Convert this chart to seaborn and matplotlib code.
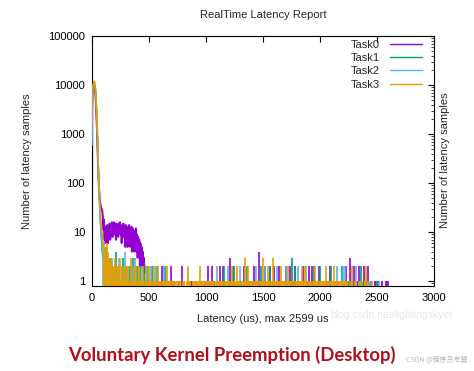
import matplotlib
matplotlib.use("Agg")
import matplotlib.pyplot as plt
import seaborn as sns
import pandas as pd
from matplotlib.ticker import FixedLocator, LogLocator, NullFormatter

# ---------------- data ----------------
tasks = ["Task0", "Task1", "Task2", "Task3"]
colors = ["#9400d3", "#009e73", "#56b4e9", "#e69f00"]

title = "RealTime Latency Report"
xlabel = "Latency (us), max 2599 us"
ylabel = "Number of latency samples"
caption = "Voluntary Kernel Preemption (Desktop)"
xticks = [0, 500, 1000, 1500, 2000, 2500, 3000]
yticks = [1, 10, 100, 1000, 10000, 100000]

# dense (line) part of each histogram
task0_head_x = [0, 2, 5, 8, 12, 16, 20, 24, 28, 32, 36, 40, 44, 48, 52, 56, 60, 64, 68, 72, 76, 80, 84, 88, 92, 96,
                100, 105, 110, 115, 120, 125, 130, 135, 140, 145, 150, 155, 160, 165, 170, 175, 180, 185, 190, 195,
                200, 205, 210, 215, 220, 225, 230, 235, 240, 245, 250, 255, 260, 265, 270, 275, 280, 285, 290, 295,
                300, 305, 310, 315, 320, 325, 330, 335, 340, 345, 350, 355, 360, 365, 370, 375, 380, 385, 390, 395,
                400, 405, 410, 415, 420, 425, 430, 435, 440, 445, 450, 455, 460, 465]
task0_head_y = [2, 3000, 6500, 8500, 9500, 10000, 9800, 9000, 7500, 5500, 3500, 2000, 1100, 550, 280, 150, 95, 65, 48, 40, 35, 32, 30, 28, 25, 20,
                11, 18, 7, 13, 6, 12, 8, 14, 6, 13, 9, 15, 7, 14, 10, 16, 8, 15, 11, 16, 9, 14, 7, 15, 10, 13, 8, 15,
                11, 16, 9, 14, 6, 13, 10, 15, 8, 12, 5, 14, 9, 13, 5, 12, 8, 14, 5, 11, 9, 13, 4, 12, 7, 11, 4, 10,
                6, 12, 4, 9, 3, 8, 4, 7, 2, 6, 3, 5, 2, 4, 1.5, 3, 1.5, 2]
task1_head_x = [0, 2, 5, 8, 12, 16, 20, 24, 28, 32, 36, 40, 44, 48, 52, 56, 60, 64, 68, 72, 76, 80, 85, 90, 95]
task1_head_y = [800, 3500, 7000, 9000, 10500, 11000, 11000, 10200, 8800, 6800, 4500, 2700, 1500, 750, 350, 170, 90, 50, 30, 20, 13, 9, 6, 4, 3]
task2_head_x = [0, 2, 5, 8, 12, 16, 20, 24, 28, 32, 36, 40, 44, 48, 52, 56, 60, 64, 68, 72, 76, 80, 85, 90, 95]
task2_head_y = [600, 3000, 6500, 8800, 10000, 10800, 11000, 10500, 9200, 7200, 4800, 2900, 1600, 800, 380, 180, 95, 55, 32, 21, 14, 10, 7, 5, 3]
task3_head_x = [0, 2, 5, 8, 12, 16, 20, 24, 28, 32, 36, 40, 44, 48, 52, 56, 60, 64, 68, 72, 76, 80, 85, 90, 95, 100]
task3_head_y = [1500, 4000, 7000, 9000, 10500, 11500, 12000, 11500, 10000, 8000, 5500, 3500, 2000, 1000, 450, 200, 110, 65, 42, 30, 22, 16, 12, 9, 7, 5]

# sparse (impulse) part: bins with count >= 2
task0_spk_x = [614, 693, 789, 1017, 1052, 1123, 1150, 1210, 1240, 1330, 1420, 1465, 1520, 1560, 1600, 1640, 1700,
               1740, 1780, 1850, 1900, 1930, 1990, 2090, 2230, 2263, 2300, 2340, 2390, 2420]
task0_spk_y = [2, 2, 2, 2, 2, 2, 2, 3, 2, 2, 2, 4, 2, 2, 2, 2, 2,
               2, 2, 2, 2, 2, 2, 2, 2, 3, 2, 2, 2, 2]
task1_spk_x = [105, 112, 125, 140, 160, 185, 210, 240, 270, 300, 330, 360, 395, 420, 455, 490, 530, 570,
               640, 1160, 1250, 1360, 1480, 1560, 1754, 1780, 1950, 2000, 2100, 2190, 2360]
task1_spk_y = [4, 3, 5, 2, 3, 2, 4, 2, 3, 2, 2, 3, 2, 2, 2, 2, 2, 2,
               2, 2, 2, 2, 2, 2, 3, 2, 2, 2, 2, 2, 2]
task2_spk_x = [100, 108, 118, 135, 150, 175, 200, 235, 260, 290, 320, 350, 380, 410, 445, 480, 520, 560,
               630, 1100, 1190, 1300, 1440, 1520, 1620, 1700, 1810, 1880, 2150, 2200, 2220, 2320]
task2_spk_y = [5, 4, 3, 4, 2, 3, 2, 3, 2, 4, 2, 2, 3, 2, 2, 2, 2, 2,
               2, 2, 2, 2, 2, 2, 2, 2, 2, 2, 2, 2, 2, 2]
task3_spk_x = [102, 107, 114, 122, 128, 136, 143, 152, 160, 171, 180, 190, 205, 216, 228, 245, 262, 280, 300, 318,
               340, 365, 390, 415, 440, 470, 500, 540, 580,
               658, 842, 947, 1228, 1270, 1340, 1370, 1500, 1540, 1590, 1660, 1720, 1840, 1870, 1960, 2050, 2120,
               2280, 2400]
task3_spk_y = [6, 4, 5, 3, 6, 2, 4, 3, 2, 3, 2, 2, 3, 2, 2, 3, 2, 2, 2, 2,
               3, 2, 2, 2, 2, 2, 2, 2, 2,
               2, 2, 2, 2, 2, 3, 2, 3, 2, 3, 2, 2, 2, 2, 2, 2, 2,
               2, 2]

# bins with a single sample
task0_ones = [480, 560, 700, 760, 880, 990, 1070, 1150, 1270, 1380, 1450, 1560, 1690, 1760, 1890, 1960, 2050, 2150,
              2270, 2330, 2410, 2450, 2480, 2510, 2540, 2575, 2599]
task1_ones = [150, 230, 410, 520, 600, 720, 850, 960, 1030, 1200, 1310, 1400, 1590, 1720, 1830, 1940, 2070, 2160,
              2250, 2380, 2430, 2500]
task2_ones = [170, 280, 450, 590, 670, 810, 910, 1060, 1170, 1290, 1440, 1500, 1650, 1740, 1910, 2030, 2130, 2240,
              2350, 2440, 2520]
task3_ones = [130, 147, 163, 182, 197, 214, 231, 249, 266, 284, 301, 318, 336, 353, 371, 388, 406, 423, 441, 458,
              476, 494, 511, 529, 546, 564, 581, 599, 617, 634, 652, 670, 688, 705, 723, 741, 758, 776, 794, 811,
              829, 847, 864, 882, 900, 917, 935, 953, 970, 988, 1006, 1023, 1041, 1058, 1076, 1094, 1111, 1129, 1147, 1164,
              1182, 1200, 1217, 1235, 1253, 1270, 1288, 1306, 1323, 1341, 1358, 1376, 1394, 1411, 1429, 1447, 1464, 1482,
              1500, 1517, 1535, 1553, 1570, 1588, 1606, 1623, 1641, 1658, 1676, 1694, 1711, 1729, 1747, 1764, 1782, 1800,
              1817, 1835, 1853, 1870, 1888, 1906, 1923, 1941, 1958, 1976, 1994, 2011, 2029, 2047, 2064, 2082, 2100, 2117,
              2135, 2153, 2170, 2188, 2206, 2223, 2241, 2262, 2285, 2310, 2338, 2365, 2395, 2425, 2455]

heads_x = [task0_head_x, task1_head_x, task2_head_x, task3_head_x]
heads_y = [task0_head_y, task1_head_y, task2_head_y, task3_head_y]
spk_x = [task0_spk_x, task1_spk_x, task2_spk_x, task3_spk_x]
spk_y = [task0_spk_y, task1_spk_y, task2_spk_y, task3_spk_y]
ones = [task0_ones, task1_ones, task2_ones, task3_ones]

# ---------------- figure ----------------
sns.set_style("white")
plt.rcParams["font.family"] = ["Liberation Sans", "DejaVu Sans"]
plt.rcParams["xtick.direction"] = "in"
plt.rcParams["ytick.direction"] = "in"

fig = plt.figure(figsize=(4.74, 3.71), dpi=100)
ax = fig.add_axes([92 / 474, 1 - 286 / 371, (434 - 92) / 474, (286 - 36) / 371])
ax.set_yscale("log")
ax.set_xlim(0, 3000)
ax.set_ylim(0.8, 100000)

base = 0.8
for i, t in enumerate(tasks):
    c = colors[i]
    ax.vlines(ones[i], base, [1] * len(ones[i]), colors=c, lw=1.3, zorder=2 + i)
    ax.vlines(spk_x[i], base, spk_y[i], colors=c, lw=1.2, zorder=2 + i)
    df = pd.DataFrame({"x": heads_x[i], "y": heads_y[i]})
    sns.lineplot(data=df, x="x", y="y", ax=ax, color=c, lw=1.4 if i == 0 else 1.1,
                 estimator=None, sort=False, zorder=2 + i, legend=False)

# legend (gnuplot-like key)
handles = [plt.Line2D([0], [0], color=c, lw=1.0) for c in colors]
ax.legend(handles, tasks, loc="upper right", frameon=False, markerfirst=False,
          fontsize=8, handlelength=2.9, handletextpad=0.9, labelspacing=0.3,
          borderaxespad=0, borderpad=0,
          bbox_to_anchor=((422 - 92) / 342, 1 - (39.5 - 36) / 250))

# ticks & frame
ax.xaxis.set_major_locator(FixedLocator(xticks))
ax.set_xticklabels([str(v) for v in xticks])
ax.yaxis.set_major_locator(FixedLocator(yticks))
ax.set_yticklabels([str(v) for v in yticks])
ax.yaxis.set_minor_locator(LogLocator(base=10, subs=range(2, 10)))
ax.yaxis.set_minor_formatter(NullFormatter())
ax.tick_params(axis="both", which="major", direction="in", length=4, width=0.8,
               top=True, right=True, labelsize=8, pad=5, colors="black")
ax.tick_params(axis="y", which="minor", direction="in", length=2, width=0.6, right=True)
for s in ax.spines.values():
    s.set_visible(True)
    s.set_color("black")
    s.set_linewidth(0.8)

ax.set_xlabel(xlabel, fontsize=8, labelpad=8)
ax.set_ylabel(ylabel, fontsize=8, labelpad=12)
fig.text(263 / 474, 1 - 15 / 371, title, ha="center", va="center", fontsize=8)
fig.text(445 / 474, 1 - 160 / 371, ylabel, ha="center", va="center", rotation=90, fontsize=8)

# watermarks and caption
fig.text(330 / 474, 1 - 315 / 371, "blog.csdn.net/lightingskyer", ha="left", va="center",
         fontsize=7.5, color="#e8e8e8", zorder=0)
fig.text(232 / 474, 1 - 355 / 371, caption, ha="center", va="center", fontsize=13.3,
         fontweight="bold", color="#b0101a", family=["Lato", "DejaVu Sans"])
fig.text(468 / 474, 1 - 359 / 371, "CSDN @程序员老舅", ha="right", va="center", fontsize=5,
         color="#b8b8b8", family=["Noto Sans CJK SC", "DejaVu Sans"])

fig.savefig("out.png", dpi=100, facecolor="white")
